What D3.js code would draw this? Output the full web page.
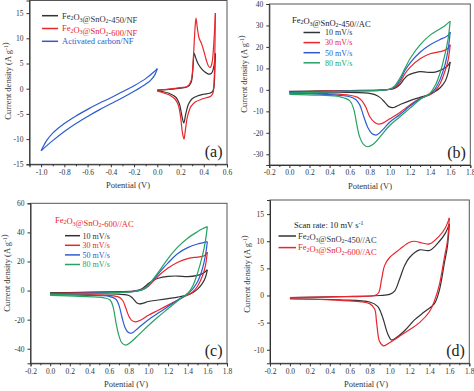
<!DOCTYPE html>
<html>
<head>
<meta charset="utf-8">
<script src="https://cdn.jsdelivr.net/npm/d3@7"></script>
<style>
  body { margin: 0; background: #fff; }
  svg { display: block; }
  text { font-family: "Liberation Serif", "Times New Roman", serif; }
</style>
</head>
<body>
<script>
// ---- data: each CV loop is split into the forward (anodic) and reverse (cathodic) sweep
// panel (a) three-electrode CVs
const aCarbonFwd = [[-1.0,-12.3],[-0.95,-10.2],[-0.9,-8.8],[-0.8,-6.9],[-0.7,-5.4],[-0.6,-4.1],[-0.5,-2.9],[-0.4,-1.8],[-0.3,-0.6],[-0.2,0.6],[-0.1,2.0],[-0.03,3.3],[0,4.0]];
const aCarbonRev = [[0,4.0],[-0.02,2.8],[-0.06,1.6],[-0.1,0.9],[-0.2,-0.5],[-0.3,-1.8],[-0.4,-3.0],[-0.5,-4.2],[-0.6,-5.5],[-0.7,-6.9],[-0.8,-8.5],[-0.9,-10.3],[-1.0,-12.3]];
const a450Fwd = [[0,-0.3],[0.1,-0.15],[0.2,0.1],[0.26,0.4],[0.29,1.2],[0.305,3.5],[0.318,7.0],[0.33,6.2],[0.35,5.0],[0.38,4.0],[0.41,3.3],[0.44,2.9],[0.465,3.0],[0.485,4.2],[0.5,7.0]];
const a450Rev = [[0.5,7.0],[0.495,3.5],[0.488,0.5],[0.475,-0.6],[0.45,-0.9],[0.4,-1.1],[0.35,-1.4],[0.3,-2.0],[0.27,-3.0],[0.245,-5.0],[0.228,-6.8],[0.21,-5.2],[0.19,-3.0],[0.16,-1.7],[0.1,-0.9],[0.05,-0.6],[0,-0.4]];
const a600Fwd = [[0,-0.3],[0.1,-0.1],[0.2,0.2],[0.26,0.5],[0.29,1.5],[0.31,6],[0.322,11],[0.333,14],[0.345,12],[0.36,10],[0.38,9],[0.4,7.5],[0.42,5.8],[0.44,4.5],[0.455,4.2],[0.47,5],[0.485,8.5],[0.5,15]];
const a600Rev = [[0.5,15],[0.496,8],[0.49,2],[0.48,-0.8],[0.46,-1.5],[0.42,-1.8],[0.38,-2.1],[0.33,-2.6],[0.29,-3.5],[0.26,-5.5],[0.24,-8.5],[0.23,-10],[0.215,-8.5],[0.2,-5.5],[0.18,-3.2],[0.15,-2],[0.1,-1.2],[0.05,-0.8],[0,-0.5]];

// panel (b) Fe2O3@SnO2-450//AC at four scan rates
const b10Fwd = [[0,-0.7],[0.3,-0.5],[0.6,-0.3],[0.9,-0.1],[1.0,0.2],[1.05,0.8],[1.1,2.5],[1.14,5],[1.18,6.8],[1.25,8],[1.3,8.5],[1.37,8.2],[1.45,8.3],[1.52,9.5],[1.57,11],[1.6,13]];
const b10Rev = [[1.6,13],[1.58,8],[1.55,4],[1.5,1],[1.45,-0.8],[1.4,-2],[1.3,-3.5],[1.2,-5],[1.12,-6.5],[1.06,-7.8],[1.03,-8.3],[0.99,-7.8],[0.95,-5.8],[0.9,-3.5],[0.85,-2.2],[0.75,-1.4],[0.5,-1.1],[0.2,-1.0],[0,-0.9]];
const b30Fwd = [[0,-1],[0.3,-0.7],[0.6,-0.4],[0.9,-0.1],[1.0,0.3],[1.05,1.2],[1.1,3.5],[1.15,7.5],[1.2,10.5],[1.3,14.5],[1.4,16.8],[1.5,17.8],[1.55,18.5],[1.58,19.5],[1.6,21]];
const b30Rev = [[1.6,21],[1.58,14],[1.55,9],[1.5,3],[1.45,-0.5],[1.4,-2.3],[1.3,-4],[1.2,-7],[1.1,-10.5],[1.0,-13.5],[0.93,-15.5],[0.89,-16],[0.85,-15.2],[0.8,-12.5],[0.76,-8],[0.72,-5],[0.68,-3.5],[0.6,-2.5],[0.4,-1.8],[0.2,-1.5],[0,-1.3]];
const b50Fwd = [[0,-1.2],[0.3,-0.9],[0.6,-0.5],[0.9,-0.2],[1.0,0.3],[1.05,1.5],[1.1,4.5],[1.15,9],[1.2,12.5],[1.3,17.5],[1.4,21],[1.5,23.5],[1.55,24.5],[1.58,25.5],[1.6,27]];
const b50Rev = [[1.6,27],[1.58,19],[1.55,12],[1.5,5],[1.45,0.5],[1.4,-1.8],[1.3,-4.2],[1.2,-7.5],[1.1,-11.5],[1.0,-15],[0.93,-18.5],[0.87,-21],[0.82,-20.3],[0.78,-17.5],[0.74,-12.5],[0.7,-7],[0.66,-4.5],[0.6,-3.2],[0.4,-2.2],[0.2,-1.8],[0,-1.6]];
const b80Fwd = [[0,-1.5],[0.3,-1.1],[0.6,-0.6],[0.9,-0.2],[1.0,0.4],[1.05,2],[1.1,5.5],[1.15,10],[1.2,14.5],[1.3,21],[1.4,25.5],[1.5,28.5],[1.55,30],[1.6,32]];
const b80Rev = [[1.6,32],[1.58,24],[1.55,17],[1.5,8],[1.45,2],[1.4,-1.5],[1.3,-4.5],[1.2,-8.5],[1.1,-12.5],[1.0,-16.5],[0.9,-22],[0.83,-25.5],[0.78,-26.5],[0.74,-25.5],[0.7,-22],[0.67,-16],[0.64,-9],[0.6,-5],[0.5,-3.2],[0.3,-2.5],[0,-2.1]];

// panel (c) Fe2O3@SnO2-600//AC at four scan rates
const c10Fwd = [[0,-1.5],[0.3,-1.2],[0.6,-0.8],[0.85,-0.3],[0.9,0.3],[0.95,2],[1.0,4.8],[1.05,7],[1.1,8.5],[1.2,9.8],[1.3,10],[1.4,9.6],[1.5,10.5],[1.56,12],[1.6,14.3]];
const c10Rev = [[1.6,14.3],[1.58,9],[1.55,5],[1.5,1],[1.45,-1.5],[1.4,-3],[1.3,-4.5],[1.2,-5.5],[1.1,-6.5],[1.0,-7.5],[0.95,-8.6],[0.91,-9.1],[0.88,-8.3],[0.85,-6],[0.82,-4],[0.78,-3],[0.7,-2.5],[0.4,-2.1],[0,-1.8]];
const c30Fwd = [[0,-2],[0.3,-1.6],[0.6,-1.1],[0.85,-0.5],[0.95,1],[1.0,3],[1.05,6.5],[1.1,10],[1.2,15.5],[1.3,19.5],[1.4,22],[1.5,23],[1.55,23.5],[1.58,24.5],[1.6,26.5]];
const c30Rev = [[1.6,26.5],[1.58,17],[1.55,10],[1.5,3],[1.45,-1],[1.4,-3],[1.3,-6.5],[1.2,-10],[1.1,-13.5],[1.0,-17],[0.93,-20],[0.87,-21.5],[0.83,-20.5],[0.8,-17.5],[0.77,-12],[0.74,-7],[0.7,-4.5],[0.6,-3.3],[0.4,-2.8],[0,-2.3]];
const c50Fwd = [[0,-2.3],[0.3,-1.9],[0.6,-1.3],[0.85,-0.6],[0.95,1],[1.0,3.5],[1.05,7.5],[1.1,11.5],[1.2,19],[1.3,25.5],[1.4,29.5],[1.5,32],[1.55,32.8],[1.6,33.6]];
const c50Rev = [[1.6,33.6],[1.58,24],[1.55,15],[1.5,6],[1.45,1],[1.4,-2],[1.3,-6.5],[1.2,-11],[1.1,-15.5],[1.0,-20],[0.9,-25.5],[0.83,-29.3],[0.79,-28.5],[0.76,-25],[0.73,-18],[0.7,-10],[0.67,-6],[0.6,-4],[0.4,-3.3],[0,-2.8]];
const c80Fwd = [[0,-2.8],[0.3,-2.3],[0.6,-1.6],[0.85,-0.8],[0.95,1],[1.0,3.5],[1.05,8],[1.1,12.5],[1.2,22],[1.3,30],[1.4,36],[1.5,40.5],[1.55,42.5],[1.6,44]];
const c80Rev = [[1.6,44],[1.58,34],[1.55,24],[1.5,12],[1.45,3],[1.4,-2],[1.3,-7],[1.2,-12.5],[1.1,-18],[1.0,-24],[0.9,-30.5],[0.82,-35.5],[0.77,-37.5],[0.73,-36],[0.7,-31],[0.67,-22],[0.64,-11],[0.61,-6.5],[0.55,-5],[0.3,-4],[0,-3.3]];

// panel (d) both devices at 10 mV/s
const d450Fwd = [[0,-0.4],[0.5,-0.2],[0.9,0],[1.0,0.2],[1.05,0.8],[1.1,3],[1.15,5.5],[1.2,7],[1.3,8.4],[1.4,8.3],[1.5,10],[1.56,11.5],[1.6,13.2]];
const d450Rev = [[1.6,13.2],[1.58,9],[1.55,6],[1.5,1],[1.45,-1.5],[1.35,-3],[1.25,-4.5],[1.15,-6.5],[1.05,-8],[1.02,-8.2],[0.98,-7],[0.93,-4],[0.88,-2],[0.8,-1.2],[0.5,-0.8],[0,-0.6]];
const d600Fwd = [[0,-0.4],[0.5,-0.2],[0.85,0],[0.89,0.5],[0.92,3],[0.95,5.5],[1.0,7],[1.1,8.5],[1.2,9.8],[1.25,10],[1.3,9.8],[1.4,9.5],[1.5,11],[1.56,12.5],[1.6,14.3]];
const d600Rev = [[1.6,14.3],[1.58,10],[1.55,7],[1.5,2],[1.45,-1],[1.4,-3],[1.3,-5],[1.2,-6.3],[1.1,-7.5],[1.0,-8.7],[0.94,-9.3],[0.9,-8.5],[0.87,-5],[0.85,-2.5],[0.8,-1.5],[0.5,-0.9],[0,-0.6]];

// tick values
const xTicksA = [-1.0,-0.8,-0.6,-0.4,-0.2,0.0,0.2,0.4,0.6];
const xMinorA = [-1.1,-0.9,-0.7,-0.5,-0.3,-0.1,0.1,0.3,0.5];
const xTicksBCD = [-0.2,0.0,0.2,0.4,0.6,0.8,1.0,1.2,1.4,1.6,1.8];
const xMinorBCD = [-0.1,0.1,0.3,0.5,0.7,0.9,1.1,1.3,1.5,1.7];
const yTicksA = [-15,-10,-5,0,5,10,15];
const yTicksB = [-30,-20,-10,0,10,20,30,40];
const yTicksC = [-40,-20,0,20,40,60];
const yTicksD = [-10,-5,0,5,10,15];

const rateLabels = ["10 mV/s","30 mV/s","50 mV/s","80 mV/s"];

const BLACK = "#333333", RED = "#e8262d", BLUE = "#2d5bd2", GREEN = "#27a262";

const svg = d3.select("body").append("svg").attr("width", 474).attr("height", 391);

// writes chemical formulas with subscripts; "_x" marks a subscript character
function rich(sel, str, size) {
  const parts = str.split(/(_\w|\^-1)/).filter(s => s.length);
  parts.forEach(p => {
    if (p[0] === "_") {
      sel.append("tspan").attr("dy", 1.5).attr("font-size", size * 0.7).text(p[1]);
      sel.append("tspan").attr("dy", -1.5).text("");
    } else if (p === "^-1") {
      sel.append("tspan").attr("dy", -3).attr("font-size", size * 0.7).text("-1");
      sel.append("tspan").attr("dy", 3).text("");
    } else {
      sel.append("tspan").text(p);
    }
  });
}

function drawPanel(p) {
  const x = d3.scaleLinear().domain(p.xDomain).range([p.left, p.right]);
  const y = d3.scaleLinear().domain(p.yDomain).range([p.bottom, p.top]);
  const g = svg.append("g");

  const line = d3.line()
    .x(d => x(d[0]))
    .y(d => y(d[1]))
    .curve(d3.curveCatmullRom.alpha(0.5));

  p.series.forEach(s => {
    [s.fwd, s.rev].forEach(branch => {
      g.append("path")
        .attr("d", line(branch))
        .attr("fill", "none")
        .attr("stroke", s.color)
        .attr("stroke-width", 1.2);
    });
  });

  g.append("rect")
    .attr("x", p.left).attr("y", p.top)
    .attr("width", p.right - p.left).attr("height", p.bottom - p.top)
    .attr("fill", "none").attr("stroke", "#555").attr("stroke-width", 1);

  // axes
  g.append("g")
    .attr("transform", `translate(0,${p.bottom})`)
    .call(d3.axisBottom(x).tickValues(p.xTicks).tickSize(3).tickPadding(2).tickFormat(d => d.toFixed(1)));
  g.append("g")
    .attr("transform", `translate(0,${p.bottom})`)
    .call(d3.axisBottom(x).tickValues(p.xMinor).tickSize(2).tickFormat(""))
    .call(a => a.select(".domain").remove());
  g.append("g")
    .attr("transform", `translate(${p.left},0)`)
    .call(d3.axisLeft(y).tickValues(p.yTicks).tickSize(3).tickPadding(3).tickFormat(d => String(d)));

  g.selectAll(".domain").attr("stroke", "#333");
  g.selectAll(".tick line").attr("stroke", "#333");
  g.selectAll(".tick text")
    .attr("fill", "#333")
    .style("font-family", "'Liberation Serif', serif")
    .style("font-size", "7.5px");

  // axis titles
  g.append("text")
    .attr("x", p.xTitleX).attr("y", p.bottom + 24)
    .attr("text-anchor", "middle")
    .attr("font-size", 8.5).attr("fill", "#333")
    .text("Potential (V)");

  const yt = g.append("text")
    .attr("transform", `translate(${p.yTitleX},${p.yTitleY}) rotate(-90)`)
    .attr("text-anchor", "middle")
    .attr("font-size", 8.5).attr("fill", "#333");
  rich(yt, "Current density (A g^-1)", 8.5);

  // panel letter
  g.append("text")
    .attr("x", p.right - 4.5).attr("y", p.bottom - 7.5)
    .attr("text-anchor", "end")
    .attr("font-size", 16).attr("fill", "#222")
    .text(p.letter);

  return g;
}

// ---- panel (a)
const ga = drawPanel({
  left: 29.5, right: 227, top: 0.5, bottom: 164.3,
  xDomain: [-1.1, 0.6], yDomain: [-15, 17.5],
  xTicks: xTicksA, xMinor: xMinorA, yTicks: yTicksA,
  xTitleX: 128, yTitleX: 10.5, yTitleY: 81, letter: "(a)",
  series: [
    { fwd: aCarbonFwd, rev: aCarbonRev, color: BLUE },
    { fwd: a450Fwd, rev: a450Rev, color: BLACK },
    { fwd: a600Fwd, rev: a600Rev, color: RED }
  ]
});
[["Fe_2O_3@SnO_2-450/NF", BLACK], ["Fe_2O_3@SnO_2-600/NF", RED], ["Activated carbon/NF", BLUE]].forEach((d, i) => {
  const yy = 15.7 + i * 12.8;
  ga.append("line").attr("x1", 42).attr("x2", 58).attr("y1", yy).attr("y2", yy)
    .attr("stroke", d[1]).attr("stroke-width", 1.5);
  const t = ga.append("text").attr("x", 62).attr("y", yy + 2.8).attr("font-size", 8.5).attr("fill", d[1]);
  rich(t, d[0], 8.5);
});

// ---- panel (b)
const gb = drawPanel({
  left: 269.3, right: 470.3, top: 4, bottom: 165,
  xDomain: [-0.2, 1.8], yDomain: [-35, 40],
  xTicks: xTicksBCD, xMinor: xMinorBCD, yTicks: yTicksB,
  xTitleX: 370, yTitleX: 246.5, yTitleY: 74, letter: "(b)",
  series: [
    { fwd: b10Fwd, rev: b10Rev, color: BLACK },
    { fwd: b30Fwd, rev: b30Rev, color: RED },
    { fwd: b50Fwd, rev: b50Rev, color: BLUE },
    { fwd: b80Fwd, rev: b80Rev, color: GREEN }
  ]
});
rich(gb.append("text").attr("x", 292).attr("y", 22.5).attr("font-size", 8.5).attr("fill", "#222"),
  "Fe_2O_3@SnO_2-450//AC", 8.5);
[BLACK, RED, BLUE, GREEN].forEach((c, i) => {
  const yy = 32.5 + i * 10.1;
  gb.append("line").attr("x1", 303.5).attr("x2", 320).attr("y1", yy).attr("y2", yy)
    .attr("stroke", c).attr("stroke-width", 1.5);
  gb.append("text").attr("x", 325).attr("y", yy + 2.8).attr("font-size", 8).attr("fill", c).text(rateLabels[i]);
});

// ---- panel (c)
const gc = drawPanel({
  left: 30.5, right: 227, top: 203.3, bottom: 363.3,
  xDomain: [-0.2, 1.8], yDomain: [-50, 60],
  xTicks: xTicksBCD, xMinor: xMinorBCD, yTicks: yTicksC,
  xTitleX: 126, yTitleX: 10, yTitleY: 273, letter: "(c)",
  series: [
    { fwd: c10Fwd, rev: c10Rev, color: BLACK },
    { fwd: c30Fwd, rev: c30Rev, color: RED },
    { fwd: c50Fwd, rev: c50Rev, color: BLUE },
    { fwd: c80Fwd, rev: c80Rev, color: GREEN }
  ]
});
rich(gc.append("text").attr("x", 55).attr("y", 222.5).attr("font-size", 8.5).attr("fill", RED),
  "Fe_2O_3@SnO_2-600//AC", 8.5);
[BLACK, RED, BLUE, GREEN].forEach((c, i) => {
  const yy = 235.7 + i * 9.6;
  gc.append("line").attr("x1", 65).attr("x2", 80).attr("y1", yy).attr("y2", yy)
    .attr("stroke", c).attr("stroke-width", 1.5);
  gc.append("text").attr("x", 82.5).attr("y", yy + 2.8).attr("font-size", 8).attr("fill", c).text(rateLabels[i]);
});

// ---- panel (d)
const gd = drawPanel({
  left: 270, right: 469.3, top: 200, bottom: 363.3,
  xDomain: [-0.2, 1.8], yDomain: [-12.5, 17.6],
  xTicks: xTicksBCD, xMinor: xMinorBCD, yTicks: yTicksD,
  xTitleX: 366, yTitleX: 250, yTitleY: 274, letter: "(d)",
  series: [
    { fwd: d450Fwd, rev: d450Rev, color: BLACK },
    { fwd: d600Fwd, rev: d600Rev, color: RED }
  ]
});
rich(gd.append("text").attr("x", 294).attr("y", 228).attr("font-size", 8.5).attr("fill", "#222"),
  "Scan rate: 10 mV s^-1", 8.5);
[["Fe_2O_3@SnO_2-450//AC", BLACK], ["Fe_2O_3@SnO_2-600//AC", RED]].forEach((d, i) => {
  const yy = 236 + i * 11.6;
  gd.append("line").attr("x1", 278.5).attr("x2", 296).attr("y1", yy).attr("y2", yy)
    .attr("stroke", d[1]).attr("stroke-width", 1.5);
  const t = gd.append("text").attr("x", 298).attr("y", yy + 2.8).attr("font-size", 8.5).attr("fill", d[1]);
  rich(t, d[0], 8.5);
});
</script>
</body>
</html>
